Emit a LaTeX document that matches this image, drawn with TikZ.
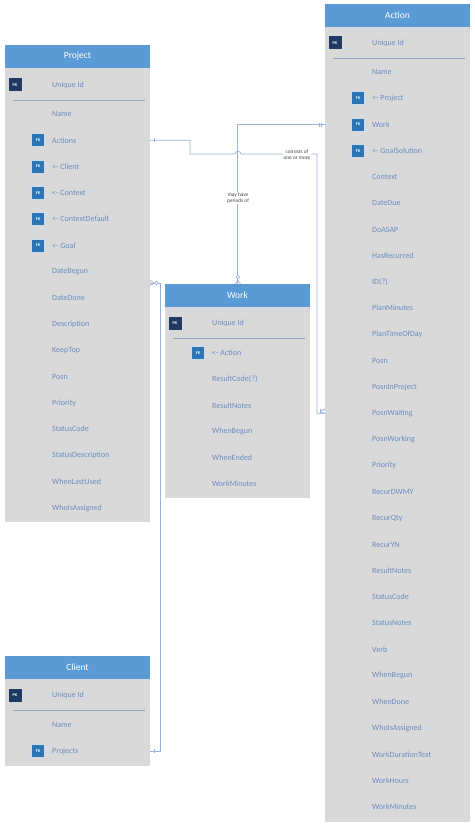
\documentclass[tikz,border=0pt]{standalone}
\usepackage{fontspec}
\setmainfont{Carlito}
\usetikzlibrary{calc}

\definecolor{hdblue}{HTML}{5B9BD5}
\definecolor{bodygray}{HTML}{D9D9D9}
\definecolor{fldblue}{HTML}{6A8CC2}
\definecolor{pknavy}{HTML}{1F3864}
\definecolor{fkblue}{HTML}{2E75B6}
\definecolor{linkblue}{HTML}{9AB3DE}

\tikzset{
  tblhead/.style={fill=hdblue, text=white, minimum width=145pt, minimum height=23pt,
    inner sep=0pt, font=\fontsize{9.5}{10}\selectfont},
  tblbody/.style={fill=bodygray, minimum width=145pt, anchor=north west, inner sep=0pt},
  fld/.style={anchor=west, text=fldblue, inner sep=0pt, font=\fontsize{8}{9}\selectfont},
  keybox/.style={minimum size=13pt, inner sep=0pt, text=white, font=\fontsize{4.2}{5}\selectfont\bfseries},
  pkbox/.style={keybox, fill=pknavy},
  fkbox/.style={keybox, fill=fkblue, draw=white!75!fkblue, line width=0.6pt},
  sepline/.style={draw=linkblue!75!gray, line width=0.6pt},
  conn/.style={draw=linkblue, line width=0.7pt},
  connlbl/.style={fill=white, inner sep=0.6pt, align=center, text=black!75,
    font=\fontsize{5.3}{6.2}\selectfont}
}

\begin{document}
\begin{tikzpicture}[x=1pt,y=-1pt]
\path[use as bounding box, fill=white] (0,0) rectangle (474,829);

% Project table
\node[tblhead] (prj) at (77.5,56.5) {Project};
\node[tblbody, minimum height=454pt] (prjbody) at (prj.south west) {};
\node[pkbox] (prjpk) at (15,85) {PK};
\node[fld] (prjid) at (52,85) {Unique Id};
\draw[sepline] (13,100) -- (145,100);
\foreach \t [count=\i from 0] in {Name,Actions,<- Client,<- Context,<- ContextDefault,<- Goal,DateBegun,DateDone,Description,KeepTop,Posn,Priority,StatusCode,StatusDescription,WhenLastUsed,WhoIsAssigned}
  \node[fld] (prj\i) at (52,114+26.27*\i) {\t};
\foreach \i in {1,...,5} % keys
  \node[fkbox] (prjfk\i) at (38,114+26.27*\i) {FK};

% Work table
\node[tblhead] (wrk) at (237.5,295.5) {Work};
\node[tblbody, minimum height=191pt] (wrkbody) at (wrk.south west) {};
\node[pkbox] (wrkpk) at (175,323) {PK};
\node[fld] (wrkid) at (212,323) {Unique Id};
\draw[sepline] (173,338) -- (305,338);
\foreach \t [count=\i from 0] in {<- Action,ResultCode(?),ResultNotes,WhenBegun,WhenEnded,WorkMinutes}
  \node[fld] (wrk\i) at (212,353+26.2*\i) {\t};
\node[fkbox] (wrkfk0) at (198,353) {FK};

% Action table
\node[tblhead] (act) at (397.5,15.5) {Action};
\node[tblbody, minimum height=795pt] (actbody) at (act.south west) {};
\node[pkbox] (actpk) at (335,43) {PK};
\node[fld] (actid) at (372,43) {Unique Id};
\draw[sepline] (333,58) -- (465,58);
\foreach \t [count=\i from 0] in {Name,<- Project,Work,<- GoalSolution,Context,DateDue,DoASAP,HasRecurred,ID(?),PlanMinutes,PlanTimeOfDay,Posn,PosnInProject,PosnWaiting,PosnWorking,Priority,RecurDWMY,RecurQty,RecurYN,ResultNotes,StatusCode,StatusNotes,Verb,WhenBegun,WhenDone,WhoIsAssigned,WorkDurationText,WorkHours,WorkMinutes}
  \node[fld] (act\i) at (372,72+26.25*\i) {\t};
\foreach \i in {1,2,3} % keys
  \node[fkbox] (actfk\i) at (358,72+26.25*\i) {FK};

% Client table
\node[tblhead] (cli) at (77.5,667.5) {Client};
\node[tblbody, minimum height=87pt] (clibody) at (cli.south west) {};
\node[pkbox] (clipk) at (15,695) {PK};
\node[fld] (cliid) at (52,695) {Unique Id};
\draw[sepline] (13,710) -- (145,710);
\node[fld] (cli0) at (52,725) {Name};
\node[fld] (cli1) at (52,751) {Projects};
\node[fkbox] (clifk1) at (38,751) {FK};

% links
\coordinate (j1) at (190,154);
\coordinate (j2) at (317,154);
\coordinate (prjin) at (150,283);
\draw[conn] (prjbody.east |- prj1) -| (j1) -- (235,154)
  .. controls (235,150.5) and (241,150.5) .. (241,154) -- (j2) |- (actbody.west |- act13);
\draw[conn] (wrk.north) -- (wrk.north |- act2) -- (actbody.west |- act2);
\draw[conn] (clibody.east |- cli1) -| (160,283) -- (prjin);

% ends
\draw[conn] (154,138) -- (154,142); % Actions
\draw[conn] (154,749) -- (154,753); % Projects
\draw[conn] (321,123) -- (321,127) (319,123) -- (319,127); % Work
\draw[conn] (320,411.4) -- (325,409) (320,411.4) -- (325,413.8) (320.5,409) -- (320.5,413.8); % many
\draw[conn, fill=white] (238,277) circle (1.8pt);
\draw[conn] (238,280) -- (235.5,284) (238,280) -- (240.5,284);
\draw[conn, fill=white] (156.5,283) circle (1.8pt);
\draw[conn] (154,283) -- (150,280.5) (154,283) -- (150,285.5);

% labels
\node[connlbl] (lblperiods) at (238,198) {may have\\periods of};
\node[connlbl] (lblconsists) at (297,154.5) {consists of\\one or more};
\end{tikzpicture}
\end{document}
